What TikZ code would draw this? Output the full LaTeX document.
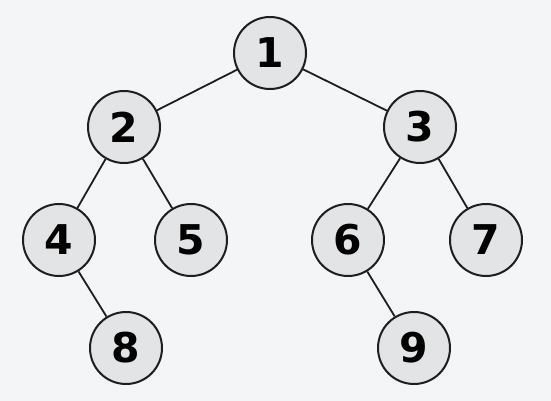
\documentclass[tikz,border=0pt]{standalone}
\usepackage{fontspec}
\newfontfamily\numfont{DejaVu Sans}[BoldFont={DejaVu Sans Bold}]
\definecolor{bgcol}{HTML}{F4F5F7}
\definecolor{nodecol}{HTML}{E3E4E6}
\definecolor{linecol}{HTML}{1E1E1E}
\tikzset{
  vertex/.style={circle, draw=linecol, fill=nodecol, line width=2pt,
    minimum size=72pt, inner sep=0pt, font=\numfont\bfseries\fontsize{41}{41}\selectfont},
  edge/.style={draw=linecol, line width=1.8pt}
}
\begin{document}
\begin{tikzpicture}[x=1pt,y=-1pt]
  \fill [bgcol] (0,0) rectangle (551,401);
  \useasboundingbox (0,0) rectangle (551,401);
  \node [vertex] (n1) at (270,53) {1};
  \node [vertex] (n2) at (124,127) {2};
  \node [vertex] (n3) at (420,127) {3};
  \node [vertex] (n4) at (59,240) {4};
  \node [vertex] (n5) at (191,240) {5};
  \node [vertex] (n6) at (348,240) {6};
  \node [vertex] (n7) at (486,240) {7};
  \node [vertex] (n8) at (126,348) {8};
  \node [vertex] (n9) at (414,348) {9};
  \draw [edge] (n1) -- (n2);
  \draw [edge] (n1) -- (n3);
  \draw [edge] (n2) -- (n4);
  \draw [edge] (n2) -- (n5);
  \draw [edge] (n3) -- (n6);
  \draw [edge] (n3) -- (n7);
  \draw [edge] (n4) -- (n8);
  \draw [edge] (n6) -- (n9);
\end{tikzpicture}
\end{document}
